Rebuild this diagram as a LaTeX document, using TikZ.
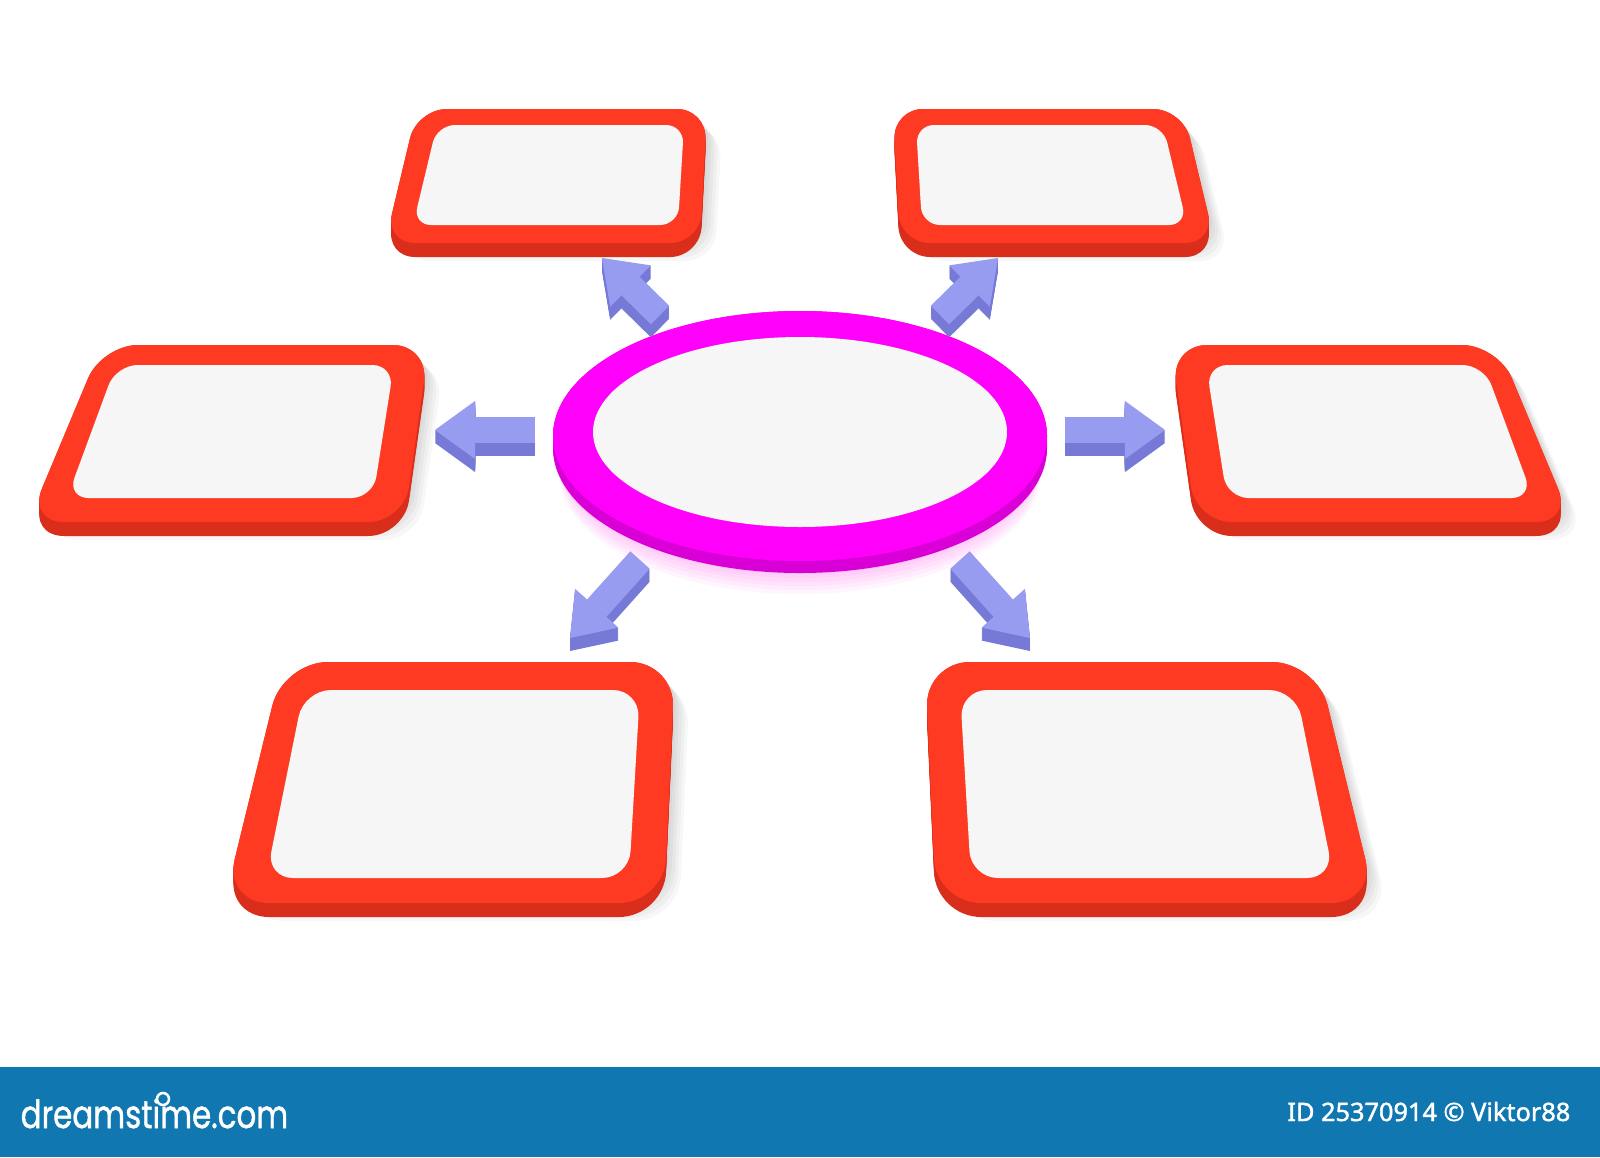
\documentclass[tikz,border=0pt]{standalone}
\usepackage{fontspec}
\setmainfont{Noto Sans}
\newfontfamily\logofont{Poppins}[FakeBold=1.2]
\newfontfamily\creditfont{Noto Sans}[FakeBold=1.6]
\usepackage{tikz}
\usetikzlibrary{arrows.meta,calc}

\definecolor{slabred}{RGB}{255,58,34}
\definecolor{slabedge}{RGB}{218,46,28}
\definecolor{panewhite}{RGB}{246,246,246}
\definecolor{ringmag}{RGB}{255,0,250}
\definecolor{ringedge}{RGB}{216,0,214}
\definecolor{arrlav}{RGB}{152,156,240}
\definecolor{arredge}{RGB}{118,122,214}
\definecolor{barblue}{RGB}{17,119,176}

\newcommand{\slab}[9][35]{%
	\foreach \d in {3,6,...,15}
		\fill[black,opacity=0.03,rounded corners=#1*0.01cm,xshift=\d*0.01cm,yshift=-\d*0.012cm] #2 -- #3 -- #4 -- #5 -- cycle;
	\foreach \d in {0,2,...,14}
		\fill[slabedge,rounded corners=#1*0.01cm,yshift=-\d*0.01cm] #2 -- #3 -- #4 -- #5 -- cycle;
	\fill[slabred,rounded corners=#1*0.01cm] #2 -- #3 -- #4 -- #5 -- cycle;
	\fill[panewhite,rounded corners=#1*0.006cm] #6 -- #7 -- #8 -- #9 -- cycle;
}

\begin{document}
\begin{tikzpicture}[x=0.01cm,y=-0.01cm,
	arrtop/.style={draw=arrlav,line width=0.26cm,-{Triangle[length=0.4cm,width=0.58cm,line width=0pt]}},
	arrside/.style={arrtop,draw=arredge}]
	\fill[white] (0,0) rectangle (1600,1157);
	\useasboundingbox (0,0) rectangle (1600,1157);

	\slab[30]{(417,109)}{(707,109)}{(700,243)}{(385,243)}{(437,125)}{(684,125)}{(678,225)}{(413,225)}
	\slab[30]{(893,109)}{(1183,109)}{(1215,243)}{(900,243)}{(916,125)}{(1163,125)}{(1187,225)}{(922,225)}
	\slab[36]{(102,345)}{(429,345)}{(404,522)}{(28,522)}{(116,365)}{(394,365)}{(373,498)}{(67,498)}
	\slab[36]{(1171,345)}{(1498,345)}{(1572,522)}{(1196,522)}{(1206,365)}{(1484,365)}{(1533,498)}{(1227,498)}
	\slab[45]{(283,662)}{(675,662)}{(664,903)}{(224,903)}{(304,690)}{(640,690)}{(629,878)}{(266,878)}
	\slab[45]{(925,662)}{(1317,662)}{(1376,903)}{(936,903)}{(960,690)}{(1296,690)}{(1334,878)}{(971,878)}

	\foreach \d in {4,8,...,24}
		\fill[ringmag,opacity=0.04] (800,450+\d) ellipse [x radius=240,y radius=120];
	\foreach \d in {0,2,...,12}
		\fill[ringedge] (800,436+\d) ellipse [x radius=247,y radius=125];
	\fill[ringmag] (800,436) ellipse [x radius=247,y radius=125];
	\fill[panewhite] (800,432) ellipse [x radius=207,y radius=95];

	\coordinate (hub-w) at (535,430);
	\coordinate (box-w) at (435,430);
	\coordinate (hub-e) at (1065,430);
	\coordinate (box-e) at (1165,430);
	\coordinate (hub-nw) at (660,315);
	\coordinate (box-nw) at (602,258);
	\coordinate (hub-ne) at (940,315);
	\coordinate (box-ne) at (998,258);
	\coordinate (hub-sw) at (640,560);
	\coordinate (box-sw) at (570,638);
	\coordinate (hub-se) at (960,560);
	\coordinate (box-se) at (1030,638);
	\foreach \s in {w,e,nw,ne,sw,se}{
		\foreach \d in {1,...,13}
			\draw[arrside] ([yshift=-\d*0.01cm]hub-\s) -- ([yshift=-\d*0.01cm]box-\s);
		\draw[arrtop] (hub-\s) -- (box-\s);
	}

	\fill[barblue] (0,1067) rectangle (1600,1157);
	\node[anchor=base west,text=white,inner sep=0] (logo) at (20,1128)
		{\logofont\fontsize{11pt}{13pt}\selectfont\scalebox{0.8}[1]{dreamstime.com}};
	\draw[white,line width=0.025cm] (163,1099) circle [radius=6];
	\node[anchor=base east,text=white,inner sep=0,font=\creditfont\fontsize{7.2pt}{9pt}\selectfont] (credit) at (1571,1121)
		{ID 25370914 © Viktor88};
\end{tikzpicture}
\end{document}
